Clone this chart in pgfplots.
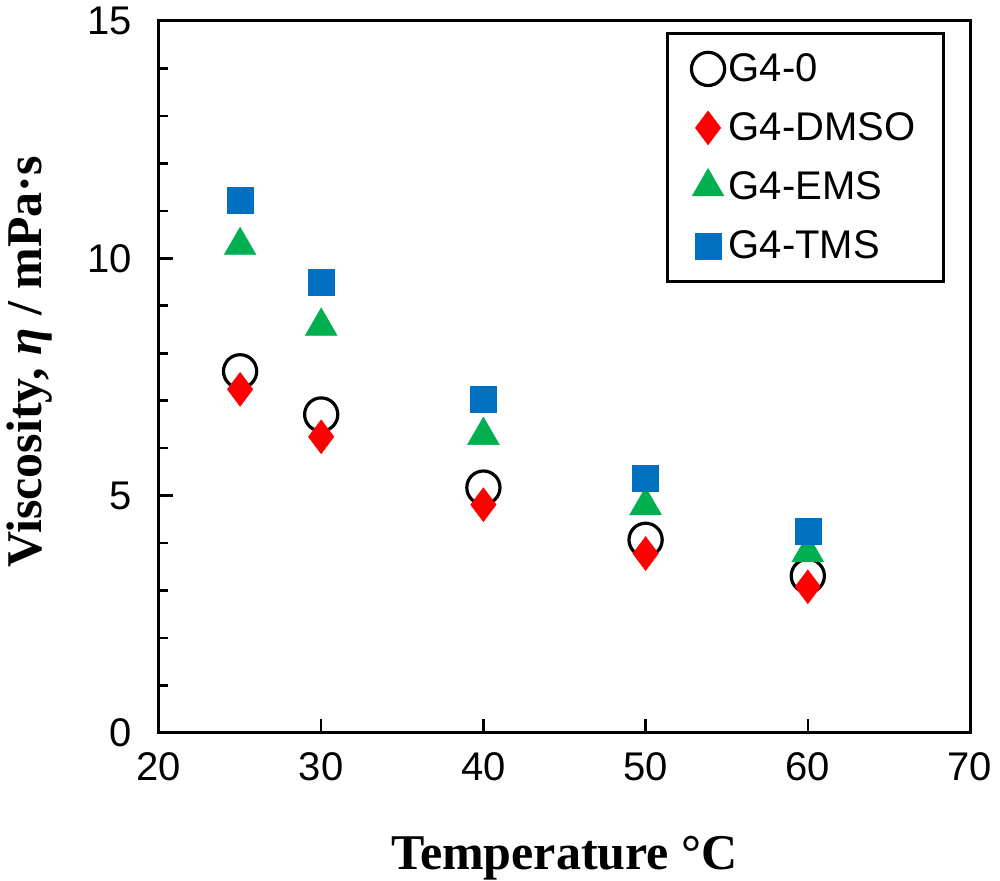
\documentclass[border=0pt]{standalone}
\usepackage{fontspec}
\setmainfont{Liberation Serif}
\newfontfamily\arial{Liberation Sans}
\usepackage{pgfplots}
\pgfplotsset{compat=1.18}
\definecolor{dmso}{HTML}{FF0000}
\definecolor{ems}{HTML}{00B050}
\definecolor{tms}{HTML}{0070C0}

\begin{document}
\begin{tikzpicture}[x=1pt,y=1pt]
\useasboundingbox (-79.5,-74) rectangle (420.5,366.5);
\begin{axis}[
  scale only axis, width=405.5pt, height=356pt,
  at={(0,0)}, anchor=south west,
  xmin=20, xmax=70, ymin=0, ymax=15,
  xtick={20,30,40,50,60,70},
  ytick={0,5,10,15}, minor ytick={1,2,3,4,6,7,8,9,11,12,13,14},
  xtick pos=left, ytick pos=left,
  tick align=inside,
  major tick length=7pt, minor tick length=4.5pt,
  every tick/.style={black, line width=1.3pt},
  axis line style={line width=1.5pt},
  tick label style={font=\arial\fontsize{20}{24}\selectfont},
  /pgf/number format/assume math mode=true,
  yticklabel style={xshift=-10pt},
  xticklabel style={yshift=-6.5pt},
  xlabel={Temperature °C},
  ylabel={Viscosity, \textit{η} / mPa·s},
  label style={font=\bfseries\fontsize{25}{30}\selectfont},
  xlabel style={at={(axis description cs:0.5,0)}, anchor=base, yshift=-68.5pt},
  ylabel style={at={(axis description cs:-0.1455,0.521)}, anchor=base},
  legend style={at={(rel axis cs:0.969,0.9846)}, anchor=north east,
    draw=black, line width=1.5pt, font=\arial\fontsize{20}{24}\selectfont,
    row sep=10pt, inner xsep=12pt, inner ysep=8pt,
    nodes={inner sep=2pt}},
  legend cell align=left,
  clip=false,
]
\addplot[only marks, mark=o, mark size=8.3pt, mark options={line width=1.6pt, draw=black}]
  coordinates {(25,7.62) (30,6.71) (40,5.17) (50,4.07) (60,3.31)};
\addlegendentry{G4-0}
\addplot[only marks, mark=diamond*, mark size=8.5pt, mark options={draw=dmso, fill=dmso, line width=0.2pt}]
  coordinates {(25,7.24) (30,6.24) (40,4.81) (50,3.78) (60,3.08)};
\addlegendentry{G4-DMSO}
\addplot[only marks, mark=triangle*, mark size=9.2pt, mark options={draw=ems, fill=ems, line width=0.2pt}]
  coordinates {(25,10.27) (30,8.57) (40,6.27) (50,4.79) (60,3.80)};
\addlegendentry{G4-EMS}
\addplot[only marks, mark=square*, mark size=6.5pt, mark options={draw=tms, fill=tms, line width=0.2pt}]
  coordinates {(25,11.22) (30,9.49) (40,7.03) (50,5.36) (60,4.26)};
\addlegendentry{G4-TMS}
\end{axis}
\end{tikzpicture}
\end{document}
